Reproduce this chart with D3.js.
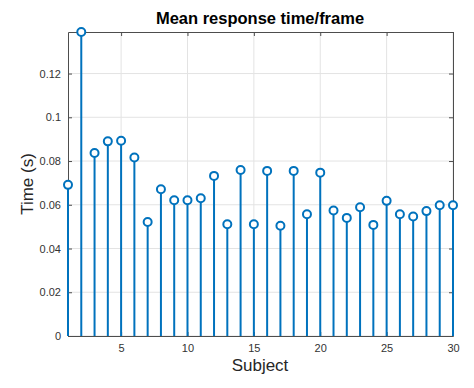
<!DOCTYPE html>
<html>
<head>
<meta charset="utf-8">
<script src="https://cdn.jsdelivr.net/npm/d3@7"></script>
<style>
  body { margin: 0; background: #fff; }
  text { font-family: "Liberation Sans", Arial, sans-serif; }
</style>
</head>
<body>
<div id="chart"></div>
<script>
// mean response time per subject (s)
var subjects = d3.range(1, 31);
var times = [0.0691, 0.1390, 0.0837, 0.0890, 0.0893, 0.0816, 0.0521, 0.0671, 0.0621, 0.0621,
             0.0630, 0.0732, 0.0511, 0.0759, 0.0511, 0.0755, 0.0504, 0.0755, 0.0557, 0.0747,
             0.0574, 0.0540, 0.0589, 0.0508, 0.0618, 0.0557, 0.0546, 0.0571, 0.0598, 0.0598];
var xTicks = [5, 10, 15, 20, 25, 30];
var yTicks = [0, 0.02, 0.04, 0.06, 0.08, 0.1, 0.12];

var W = 474, H = 388;
var m = {left: 68, right: 21, top: 32, bottom: 52};

var svg = d3.select("#chart").append("svg")
    .attr("width", W)
    .attr("height", H);

var x = d3.scaleLinear().domain([1, 30]).range([m.left, W - m.right]);
var y = d3.scaleLinear().domain([0, d3.max(times)]).range([H - m.bottom, m.top]);

var axisColor = "#4d4d4d";

// grid
svg.append("g").selectAll("line.gx").data(xTicks).enter().append("line")
    .attr("x1", d => x(d)).attr("x2", d => x(d))
    .attr("y1", y.range()[1]).attr("y2", y.range()[0])
    .attr("stroke", "#e3e3e3").attr("stroke-width", 1);
svg.append("g").selectAll("line.gy").data(yTicks).enter().append("line")
    .attr("x1", x.range()[0]).attr("x2", x.range()[1])
    .attr("y1", d => y(d)).attr("y2", d => y(d))
    .attr("stroke", "#e3e3e3").attr("stroke-width", 1);

// axes (ticks inward, MATLAB style)
var gx = svg.append("g").attr("transform", "translate(0," + (H - m.bottom) + ")")
    .call(d3.axisBottom(x).tickValues(xTicks).tickSizeInner(-4).tickSizeOuter(0).tickPadding(8));
var gxTop = svg.append("g").attr("transform", "translate(0," + m.top + ")")
    .call(d3.axisTop(x).tickValues(xTicks).tickSizeInner(-4).tickSizeOuter(0).tickFormat(""));
var gy = svg.append("g").attr("transform", "translate(" + m.left + ",0)")
    .call(d3.axisLeft(y).tickValues(yTicks).tickSizeInner(-4).tickSizeOuter(0).tickPadding(7)
        .tickFormat(d => d3.format("")(+d.toFixed(2))));
var gyRight = svg.append("g").attr("transform", "translate(" + (W - m.right) + ",0)")
    .call(d3.axisRight(y).tickValues(yTicks).tickSizeInner(-4).tickSizeOuter(0).tickFormat(""));

[gx, gxTop, gy, gyRight].forEach(function(g) {
  g.select(".domain").attr("stroke", axisColor);
  g.selectAll(".tick line").attr("stroke", axisColor);
  g.selectAll(".tick text").attr("fill", "#333").style("font-size", "11px")
    .style("font-family", "Liberation Sans, Arial, sans-serif");
});

// stems
var blue = "#0072BD";
svg.append("g").selectAll("line").data(times).enter().append("line")
    .attr("x1", (d, i) => x(subjects[i])).attr("x2", (d, i) => x(subjects[i]))
    .attr("y1", y(0)).attr("y2", d => y(d))
    .attr("stroke", blue).attr("stroke-width", 2);
svg.append("g").selectAll("circle").data(times).enter().append("circle")
    .attr("cx", (d, i) => x(subjects[i])).attr("cy", d => y(d))
    .attr("r", 4)
    .attr("fill", "#fff").attr("stroke", blue).attr("stroke-width", 2);

// labels
svg.append("text").attr("x", 260).attr("y", 24).attr("text-anchor", "middle")
    .style("font-size", "16.5px").style("font-weight", "bold").attr("fill", "#000")
    .text("Mean response time/frame");
svg.append("text").attr("x", 260).attr("y", 371).attr("text-anchor", "middle")
    .style("font-size", "17px").attr("fill", "#262626")
    .text("Subject");
svg.append("text").attr("transform", "translate(33," + ((m.top + H - m.bottom) / 2 + 0) + ") rotate(-90)")
    .attr("text-anchor", "middle")
    .style("font-size", "17px").attr("fill", "#262626")
    .text("Time (s)");
</script>
</body>
</html>
